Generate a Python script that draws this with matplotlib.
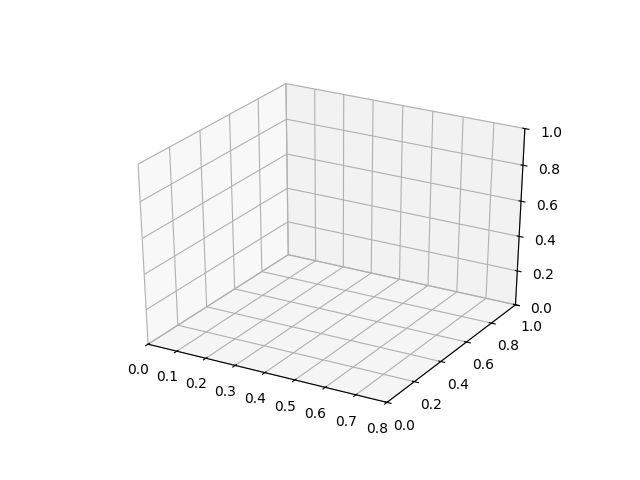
import matplotlib
matplotlib.use("Agg")
import matplotlib.pyplot as plt

# axis ranges
x_range = [0.0, 0.8]
y_range = [0.0, 1.0]
z_range = [0.0, 1.0]

fig = plt.figure(figsize=(6.4, 4.8), dpi=100)
ax = fig.add_subplot(projection="3d")
ax.set_xlim(*x_range)
ax.set_ylim(*y_range)
ax.set_zlim(*z_range)
ax.set_box_aspect((1, 1, 1), zoom=0.935)
# let the 3d box stretch to the full subplot area (old-style look)
ax.apply_aspect = lambda position=None: None

plt.savefig("out.png", dpi=100)
plt.close()
